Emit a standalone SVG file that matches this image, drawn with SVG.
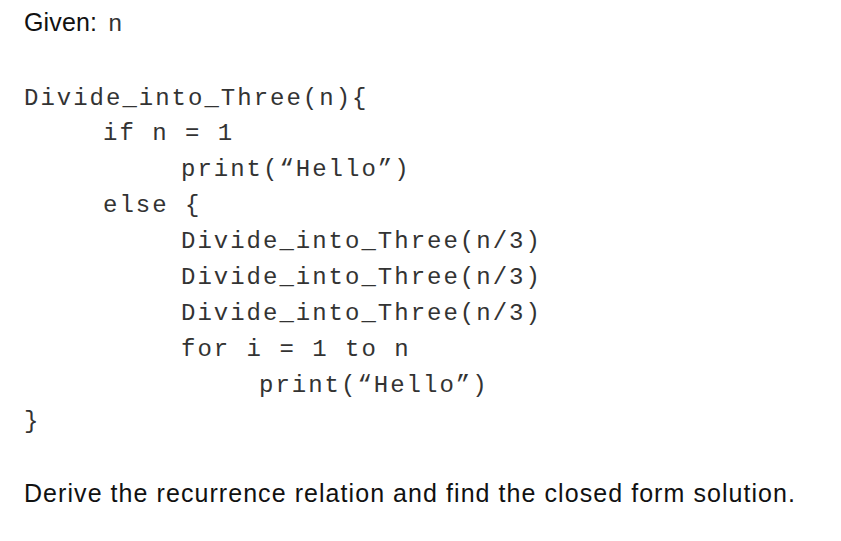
<svg xmlns="http://www.w3.org/2000/svg" width="841" height="541" viewBox="0 0 841 541">
<style>
.s{font-family:"Liberation Sans",Arial,sans-serif;font-size:25px;fill:#111}
.m{font-family:"Liberation Mono","Courier New",monospace;font-size:24px;letter-spacing:2px;fill:#333;white-space:pre}
</style>
<rect width="841" height="541" fill="#fff"/>
<text class="s" x="24" y="31" textLength="73">Given:</text>
<text class="m" x="108" y="31">n</text>
<text class="m" x="24" y="105">Divide_into_Three(n){</text>
<text class="m" x="103" y="140">if n = 1</text>
<text class="m" x="181" y="176">print(“Hello”)</text>
<text class="m" x="103" y="212">else {</text>
<text class="m" x="181" y="248">Divide_into_Three(n/3)</text>
<text class="m" x="181" y="284">Divide_into_Three(n/3)</text>
<text class="m" x="181" y="320">Divide_into_Three(n/3)</text>
<text class="m" x="181" y="356">for i = 1 to n</text>
<text class="m" x="259" y="392">print(“Hello”)</text>
<text class="m" x="24" y="428">}</text>
<text class="s" x="24" y="502" textLength="771">Derive the recurrence relation and find the closed form solution.</text>
</svg>
